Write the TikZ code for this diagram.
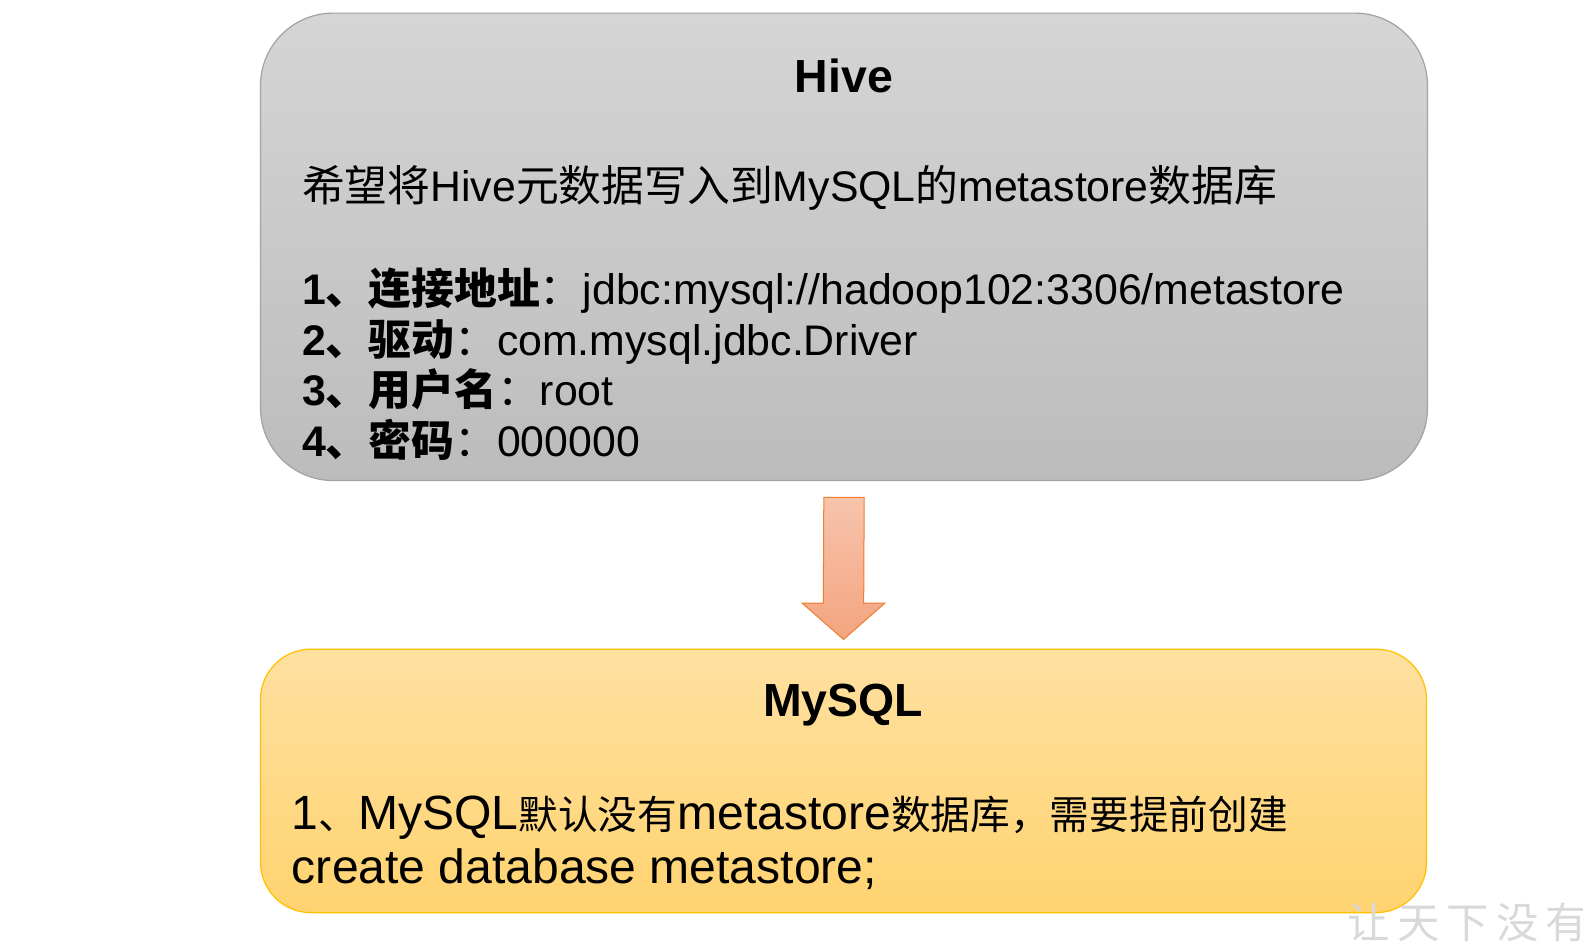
\documentclass[tikz,border=0pt]{standalone}
\usepackage{fontspec}
\setmainfont{Liberation Sans}
\newfontfamily\cjk{Noto Sans CJK SC}
\newfontfamily\cjksmall[Scale=0.826]{Noto Sans CJK SC}
\usetikzlibrary{calc}

\definecolor{hivetop}{HTML}{D5D5D5}
\definecolor{hivebot}{HTML}{BCBCBC}
\definecolor{hiveline}{HTML}{A3A3A3}
\definecolor{mysqltop}{HTML}{FEE0A0}
\definecolor{mysqlbot}{HTML}{FFD370}
\definecolor{mysqlline}{HTML}{FFC000}
\definecolor{arrowtop}{HTML}{F7C4AC}
\definecolor{arrowbot}{HTML}{F4A47F}
\definecolor{arrowline}{HTML}{ED7D31}

\tikzstyle{hivebox} = [rectangle, rounded corners=72pt, minimum width=1156pt, minimum height=463pt, draw=hiveline, line width=1.2pt, top color=hivetop, bottom color=hivebot]
\tikzstyle{mysqlbox} = [rectangle, rounded corners=50pt, minimum width=1155pt, minimum height=261pt, draw=mysqlline, line width=1.2pt, top color=mysqltop, bottom color=mysqlbot]
\tikzstyle{title} = [inner sep=0pt, anchor=base, font=\fontsize{46}{50}\selectfont\bfseries]
\tikzstyle{textline} = [inner sep=0pt, anchor=base west, font=\fontsize{42.4}{50}\selectfont]
\tikzstyle{bigline} = [inner sep=0pt, anchor=base west, font=\fontsize{47.6}{53}\selectfont]
\tikzstyle{arrow} = [draw=arrowline, line width=1pt, top color=arrowtop, bottom color=arrowbot]

\begin{document}
\begin{tikzpicture}[x=1pt, y=1pt]
    \useasboundingbox (0,0) rectangle (1568,936);

    \node (hive) [hivebox] at (836,691.5) {};
    \node (mysql) [mysqlbox] at (835.5,162.5) {};

    \node (hivetitle) [title] at (836,844) {Hive};
    \node (wish) [textline] at (299,736) {{\cjk 希望将}Hive{\cjk 元数据写入到}MySQL{\cjk 的}metastore{\cjk 数据库}};
    \node (url) [textline] at (299,634) {\textbf{1{\cjk 、连接地址}}{\cjk ：}jdbc:mysql://hadoop102:3306/metastore};
    \node (driver) [textline] at (299,584) {\textbf{2{\cjk 、驱动}}{\cjk ：}com.mysql.jdbc.Driver};
    \node (user) [textline] at (299,534) {\textbf{3{\cjk 、用户名}}{\cjk ：}root};
    \node (pwd) [textline] at (299,484) {\textbf{4{\cjk 、密码}}{\cjk ：}000000};

    \node (mysqltitle) [title] at (835,226) {MySQL};
    \node (create) [bigline] at (289,114) {1{\cjksmall 、}MySQL{\cjksmall 默认没有}metastore{\cjksmall 数据库，需要提前创建}};
    \node (cmd) [bigline] at (289,61) {create database metastore;};

    % block arrow between the boxes
    \coordinate (tail) at ($(hive.south)+(0,-16)$);
    \coordinate (tip) at ($(mysql.north)+(0,9)$);
    \path [arrow] ($(tail)+(-20,0)$) -- ($(tail)+(20,0)$) -- ($(tip)+(20,36)$) -- ($(tip)+(41,36)$)
        -- (tip) -- ($(tip)+(-41,36)$) -- ($(tip)+(-20,36)$) -- cycle;

    \node (mark) [inner sep=0pt, anchor=base west, text=black!15, font=\cjk\fontsize{42}{46}\selectfont] at (1335,6) {让\,天\,下\,没\,有\,难};
\end{tikzpicture}
\end{document}
